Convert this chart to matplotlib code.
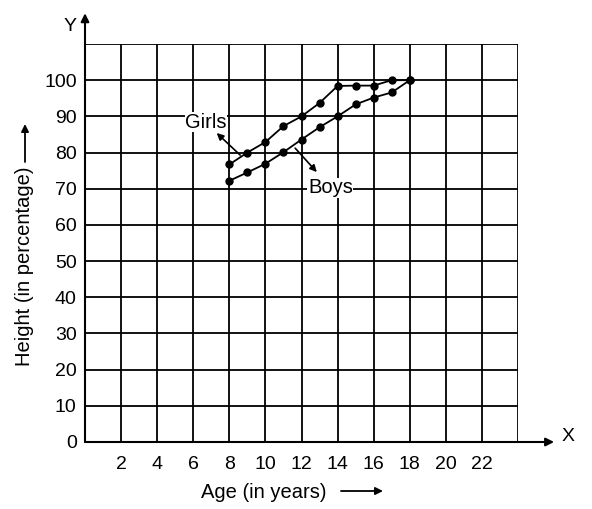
import numpy as np
import matplotlib
matplotlib.use("Agg")
import matplotlib.pyplot as plt

plt.rcParams['font.family'] = ['Liberation Sans', 'DejaVu Sans']

ages = [8, 9, 10, 11, 12, 13, 14, 15, 16, 17, 18]
girls = [76.7, 80, 82.9, 87.3, 90, 93.7, 98.4, 98.5, 98.5, 100, 100]
boys = [72.2, 74.5, 76.9, 80.1, 83.6, 87, 90, 93.3, 95.2, 96.6, 100]

x_ticks = [2, 4, 6, 8, 10, 12, 14, 16, 18, 20, 22]
y_ticks = [0, 10, 20, 30, 40, 50, 60, 70, 80, 90, 100]

W, H = 592, 509


def fig_arrow(fig, x0, y0, x1, y1):
    # pixel coords measured from the top-left corner
    fig.add_artist(plt.Annotation(
        '', xy=(x1 / W, 1 - y1 / H), xytext=(x0 / W, 1 - y0 / H),
        xycoords='figure fraction', textcoords='figure fraction',
        arrowprops=dict(arrowstyle='-|>', color='black', lw=1.3,
                        mutation_scale=11, shrinkA=0, shrinkB=0)))


def main():
    fig = plt.figure(figsize=(W / 100, H / 100), dpi=100)
    ax = fig.add_axes([85 / W, 67 / H, 433 / W, 398 / H])
    ax.set_xlim(0, 24)
    ax.set_ylim(0, 110)

    # grid
    for gx in range(2, 25, 2):
        ax.axvline(gx, color='black', lw=1.3, zorder=1)
    for gy in range(10, 111, 10):
        ax.axhline(gy, color='black', lw=1.3, zorder=1)

    for s in ax.spines.values():
        s.set_visible(False)
    ax.tick_params(length=0, labelsize=14)
    ax.tick_params(axis='x', pad=10)
    ax.tick_params(axis='y', pad=6)
    ax.set_xticks(x_ticks)
    ax.set_yticks(y_ticks)

    ax.plot(ages, girls, color='black', lw=1.3, marker='o', ms=5, zorder=3)
    ax.plot(ages, boys, color='black', lw=1.3, marker='o', ms=5, zorder=3)

    # axes with arrows
    ax.annotate('', xy=(0, 118.5), xytext=(0, 0), annotation_clip=False,
                arrowprops=dict(arrowstyle='-|>', color='black', lw=1.5,
                                mutation_scale=12, shrinkA=0, shrinkB=0))
    ax.annotate('', xy=(26.0, 0), xytext=(0, 0), annotation_clip=False,
                arrowprops=dict(arrowstyle='-|>', color='black', lw=1.5,
                                mutation_scale=12, shrinkA=0, shrinkB=0))
    ax.text(-0.85, 114.8, 'Y', fontsize=14, ha='center', va='center')
    ax.text(26.8, 1.5, 'X', fontsize=14, ha='center', va='center')

    # labels with arrows
    ax.annotate('', xy=(7.3, 85.4), xytext=(8.6, 79.3),
                arrowprops=dict(arrowstyle='-|>', color='black', lw=1.2,
                                mutation_scale=10, shrinkA=0, shrinkB=0))
    ax.text(6.7, 88.4, 'Girls', fontsize=14.5, ha='center', va='center', zorder=4,
            bbox=dict(facecolor='white', edgecolor='none', pad=0.5))
    ax.annotate('', xy=(12.85, 74.6), xytext=(11.65, 81.2),
                arrowprops=dict(arrowstyle='-|>', color='black', lw=1.2,
                                mutation_scale=10, shrinkA=0, shrinkB=0))
    ax.text(13.6, 70.3, 'Boys', fontsize=14.5, ha='center', va='center', zorder=4,
            bbox=dict(facecolor='white', edgecolor='none', pad=0.5))

    # axis titles, arrows drawn beside them
    fig.text(264 / W, 1 - 492 / H, 'Age (in years)', fontsize=14.5,
             ha='center', va='center')
    fig_arrow(fig, 341, 491, 383, 491)
    fig.text(25 / W, 1 - 266 / H, 'Height (in percentage)', fontsize=14.5,
             ha='center', va='center', rotation=90)
    fig_arrow(fig, 25, 162, 25, 124)

    fig.savefig('out.png', dpi=100)


if __name__ == '__main__':
    main()
